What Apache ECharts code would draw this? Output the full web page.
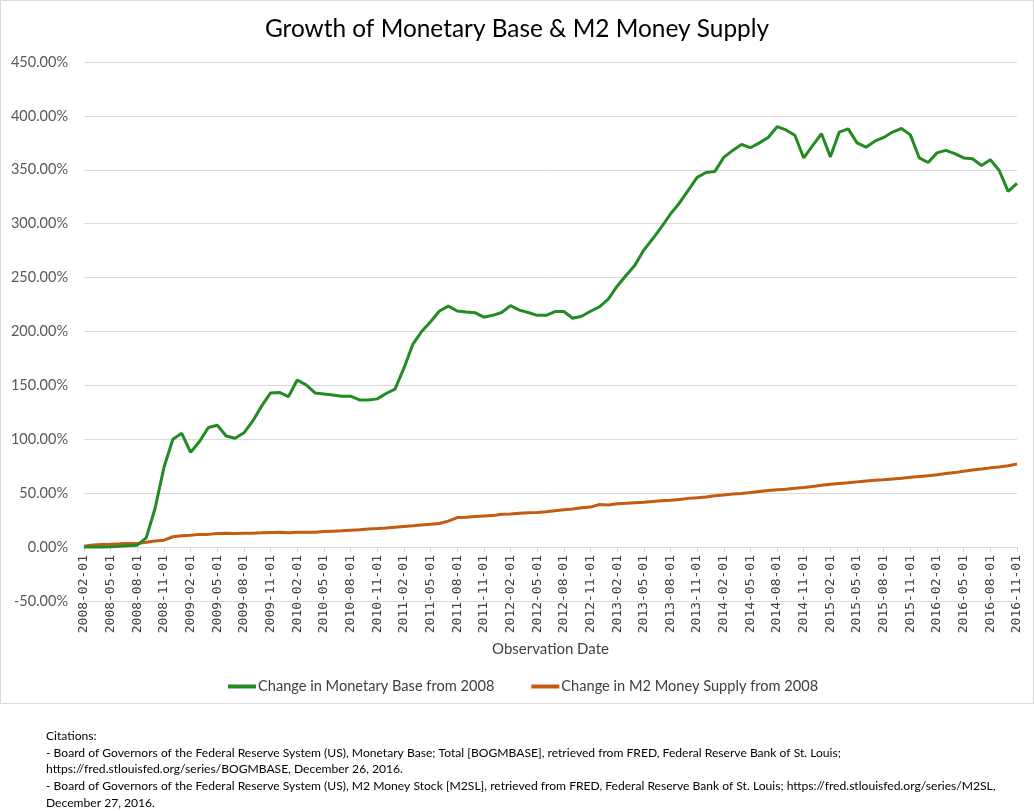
<!DOCTYPE html>
<html>
<head>
<meta charset="utf-8">
<script src="https://cdn.jsdelivr.net/npm/echarts@6/dist/echarts.min.js"></script>
<style>
html,body{margin:0;padding:0;background:#fff;}
#chart{width:1034px;height:811px;}
</style>
</head>
<body>
<div id="chart"></div>
<script>
// Categories: monthly observation dates 2008-02-01 .. 2016-11-01
const categories = [];
(function(){
  let y = 2008, m = 2;
  while (y < 2016 || (y === 2016 && m <= 11)) {
    categories.push(y + '-' + (m < 10 ? '0' + m : m) + '-01');
    m++; if (m > 12) { m = 1; y++; }
  }
})();

const seriesNames = ['Change in Monetary Base from 2008', 'Change in M2 Money Supply from 2008'];

// Change in Monetary Base (%)
const monetaryBase = [
  0, 0.1, 0.2, 0.4, 0.8, 1.3, 1.8, 8.5, 36, 74, 100,
  105.5, 88, 98, 111, 113, 103, 101, 106, 117, 131, 143, 143.5,
  139.5, 155, 150.5, 143, 142, 141, 140, 140, 136.5, 136.5, 137.5, 142.5,
  146.5, 166, 188, 200, 209, 219, 223.5, 219, 218, 217.5, 213.3, 215,
  217.6, 224, 219.8, 217.6, 215, 215, 218.5, 218.5, 212.3, 214.2, 218.8, 222.8,
  230, 242, 252, 261.5, 275.5, 286, 297, 309, 319, 331, 343, 347.5,
  348.5, 361.5, 368, 373.5, 370.5, 375, 380, 390, 387, 382, 361, 372.5,
  383.5, 362, 385, 388, 375, 371, 376.5, 380, 385, 388.3, 382.4, 361,
  356.8, 365.7, 368, 365, 361, 360.2, 354, 359.3, 349.4, 330, 337.5
];

// Change in M2 Money Supply (%)
const m2Supply = [
  0.9, 1.9, 2.5, 2.7, 3.0, 3.4, 3.4, 4.5, 5.7, 6.4, 9.6,
  10.5, 10.9, 11.8, 11.8, 12.6, 12.8, 12.6, 12.8, 12.9, 13.2, 13.6, 13.7,
  13.3, 13.7, 13.8, 13.8, 14.5, 14.8, 15.1, 15.6, 16.1, 16.8, 17.2, 17.7,
  18.4, 19.1, 19.7, 20.4, 21.1, 21.9, 24.1, 27.4, 27.8, 28.3, 28.8, 29.2,
  30.4, 30.8, 31.4, 31.9, 32.2, 32.8, 33.8, 34.6, 35.4, 36.5, 37.1, 39.5,
  39.0, 40.2, 40.6, 41.1, 41.5, 42.2, 42.9, 43.5, 44.2, 45.2, 45.8, 46.5,
  47.6, 48.4, 49.3, 49.8, 50.6, 51.6, 52.5, 53.3, 53.6, 54.5, 55.3, 56.3,
  57.3, 58.4, 59.1, 59.6, 60.5, 61.3, 62.0, 62.5, 63.2, 63.9, 64.7, 65.4,
  66.2, 67.2, 68.3, 69.1, 70.3, 71.5, 72.4, 73.5, 74.3, 75.4, 77.0
];

const citationLines = [
  'Citations:',
  '- Board of Governors of the Federal Reserve System (US), Monetary Base; Total [BOGMBASE], retrieved from FRED, Federal Reserve Bank of St. Louis;',
  'https://fred.stlouisfed.org/series/BOGMBASE, December 26, 2016.',
  '- Board of Governors of the Federal Reserve System (US), M2 Money Stock [M2SL], retrieved from FRED, Federal Reserve Bank of St. Louis; https://fred.stlouisfed.org/series/M2SL,',
  'December 27, 2016.'
];

const chart = echarts.init(document.getElementById('chart'), null, {renderer: 'canvas'});
const font = 'Lato, "Open Sans", sans-serif';

chart.setOption({
  backgroundColor: '#fff',
  animation: false,
  title: {
    text: 'Growth of Monetary Base & M2 Money Supply',
    left: 'center',
    top: 12,
    textStyle: {fontFamily: font, fontSize: 24.4, fontWeight: 'normal', color: '#000'}
  },
  legend: {
    bottom: 112,
    left: 223,
    itemGap: 37,
    itemWidth: 28,
    itemHeight: 4,
    icon: 'rect',
    textStyle: {fontFamily: font, fontSize: 14.6, color: '#404040', padding: [0, 0, 0, -3]},
    data: seriesNames
  },
  grid: {left: 84, right: 17, top: 62, bottom: 210},
  xAxis: {
    type: 'category',
    data: categories,
    boundaryGap: false,
    offset: -54,
    name: 'Observation Date',
    nameLocation: 'middle',
    nameGap: 94,
    nameTextStyle: {fontFamily: font, fontSize: 15, color: '#404040'},
    axisLine: {onZero: false, lineStyle: {color: '#d9d9d9', width: 1}},
    axisTick: {show: true, interval: 2, length: 5, lineStyle: {color: '#d9d9d9'}},
    axisLabel: {
      interval: 2,
      rotate: 90,
      margin: 8,
      fontFamily: '"DejaVu Sans Mono", monospace',
      fontSize: 13,
      color: '#404040'
    },
    splitLine: {show: false}
  },
  yAxis: {
    type: 'value',
    min: -50,
    max: 450,
    interval: 50,
    axisLine: {show: false},
    axisTick: {show: false},
    axisLabel: {
      fontFamily: font,
      fontSize: 14.5,
      color: '#595959',
      margin: 16,
      formatter: v => v.toFixed(2) + '%'
    },
    splitLine: {lineStyle: {color: '#d9d9d9', width: 1}}
  },
  series: [
    {
      name: seriesNames[0],
      type: 'line',
      data: monetaryBase,
      symbol: 'none',
      lineStyle: {color: '#228b22', width: 3},
      itemStyle: {color: '#228b22'},
      z: 3
    },
    {
      name: seriesNames[1],
      type: 'line',
      data: m2Supply,
      symbol: 'none',
      lineStyle: {color: '#c55a11', width: 3},
      itemStyle: {color: '#c55a11'},
      z: 2
    }
  ],
  graphic: [
    {
      type: 'rect',
      shape: {x: 0.5, y: 0.5, width: 1033, height: 703},
      style: {fill: 'none', stroke: '#d9d9d9', lineWidth: 1},
      silent: true,
      z: -1
    }
  ].concat(citationLines.map((t, i) => ({
    type: 'text',
    left: 46,
    top: 730 + i * 16.7,
    style: {text: t, font: '12.1px ' + font, fill: '#000'}
  })))
});
</script>
</body>
</html>
